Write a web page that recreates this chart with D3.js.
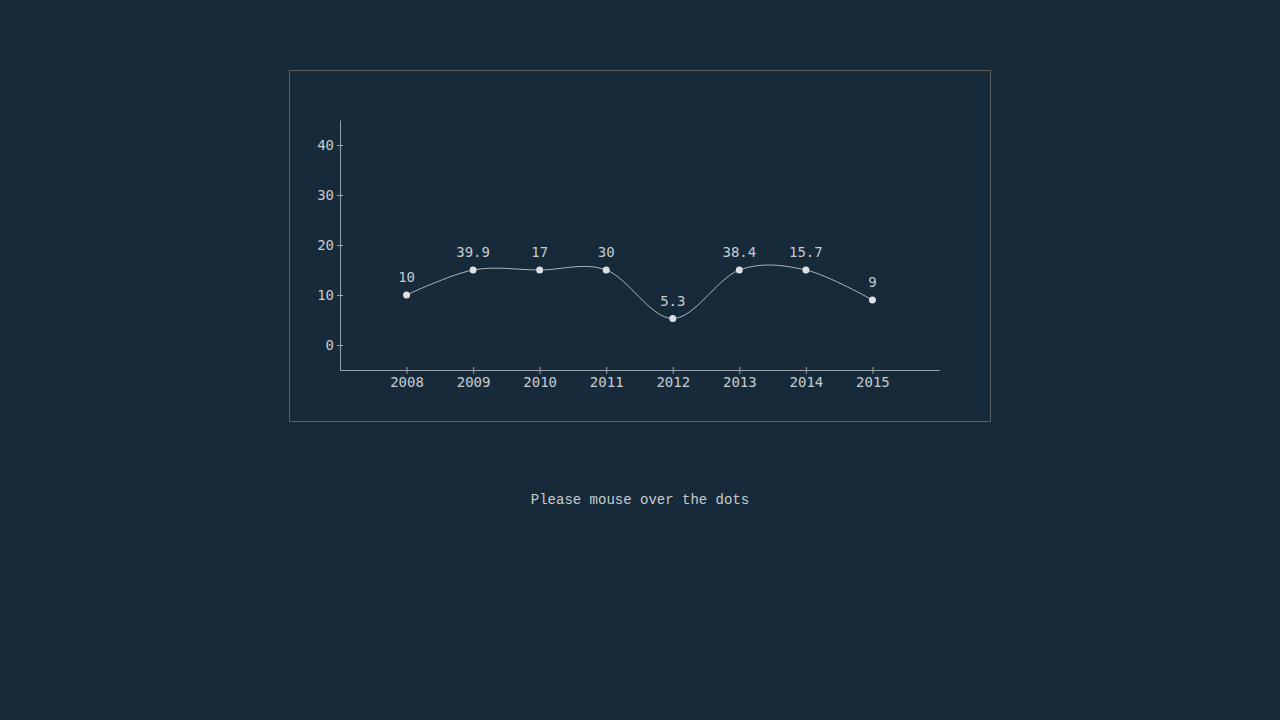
<!DOCTYPE html>
<html>
<head>
<meta charset="utf-8">
<script src="https://cdn.jsdelivr.net/npm/d3@7"></script>
<style>
  body { margin: 0; background: #172a3a; }
  #plot { position: absolute; left: 289px; top: 70px; }
  #plot svg { display: block; }
  #msg {
    position: absolute; left: 0; width: 1280px; top: 492px;
    text-align: center; font-family: "Liberation Mono", monospace;
    font-size: 14px; color: #c8ccd0;
  }
</style>
</head>
<body>
<div id="plot"></div>
<div id="msg">Please mouse over the dots</div>
<script>
const width = 700
const height = 350
const margin = ({top: 50, right: 51, bottom: 50, left: 50})

const years = [2008, 2009, 2010, 2011, 2012, 2013, 2014, 2015]
const values = [10, 39.9, 17, 30, 5.3, 38.4, 15.7, 9]
const yTicks = [0, 10, 20, 30, 40]
const capValue = 15   // dots never drawn above this value

const data = years.map((d, i) => ({year: d, value: values[i]}))

const x = d3.scalePoint()
  .domain(years)
  .range([margin.left, width - margin.right])
  .padding(1)

const y = d3.scaleLinear()
  .domain([-5, 45])
  .range([height - margin.bottom, margin.top])

const axisColor = "#9aa3ab"
const textColor = "#c8ccd0"

const svg = d3.select("#plot")
  .append("svg")
  .attr("width", width + 2)
  .attr("height", height + 2)

// frame round the chart
svg.append("rect")
  .attr("x", 0.5)
  .attr("y", 0.5)
  .attr("width", width + 1)
  .attr("height", height + 1)
  .attr("fill", "none")
  .attr("stroke", "#5a5f63")

const chart = svg.append("g").attr("transform", "translate(1,0)")

const xAxis = g => g
  .attr("transform", `translate(0,${height - margin.bottom})`)
  .call(d3.axisBottom(x).tickSizeOuter(0).tickSizeInner(4).tickPadding(3))
  .call(g => g.selectAll(".tick line").attr("y1", -3).attr("y2", 4))

const yAxis = g => g
  .attr("transform", `translate(${margin.left},0)`)
  .call(d3.axisLeft(y).tickValues(yTicks).tickSizeOuter(0).tickSizeInner(3).tickPadding(3))
  .call(g => g.selectAll(".tick line").attr("x1", -3).attr("x2", 3))

chart.append("g").attr("class", "xaxis").call(xAxis)
chart.append("g").attr("class", "yaxis").call(yAxis)

chart.selectAll(".domain, .tick line").attr("stroke", axisColor)
chart.selectAll(".tick text")
  .attr("fill", textColor)
  .attr("font-family", "DejaVu Sans Mono")
  .attr("font-size", 14)

const line = d3.line()
  .x(d => x(d.year))
  .y(d => y(Math.min(d.value, capValue)))
  .curve(d3.curveCardinal)

chart.append("path")
  .datum(data)
  .attr("fill", "none")
  .attr("stroke", "#aeb4ba")
  .attr("stroke-width", 1)
  .attr("d", line)

chart.selectAll("circle")
  .data(data)
  .enter()
  .append("circle")
  .attr("cx", d => x(d.year))
  .attr("cy", d => y(Math.min(d.value, capValue)))
  .attr("r", 3.5)
  .attr("fill", "#dde0e3")

chart.selectAll(".label")
  .data(data)
  .enter()
  .append("text")
  .attr("class", "label")
  .attr("x", d => x(d.year))
  .attr("y", d => y(Math.min(d.value, capValue)) - 13)
  .attr("text-anchor", "middle")
  .attr("font-family", "DejaVu Sans Mono")
  .attr("font-size", 14)
  .attr("fill", textColor)
  .text(d => d.value)
</script>
</body>
</html>
